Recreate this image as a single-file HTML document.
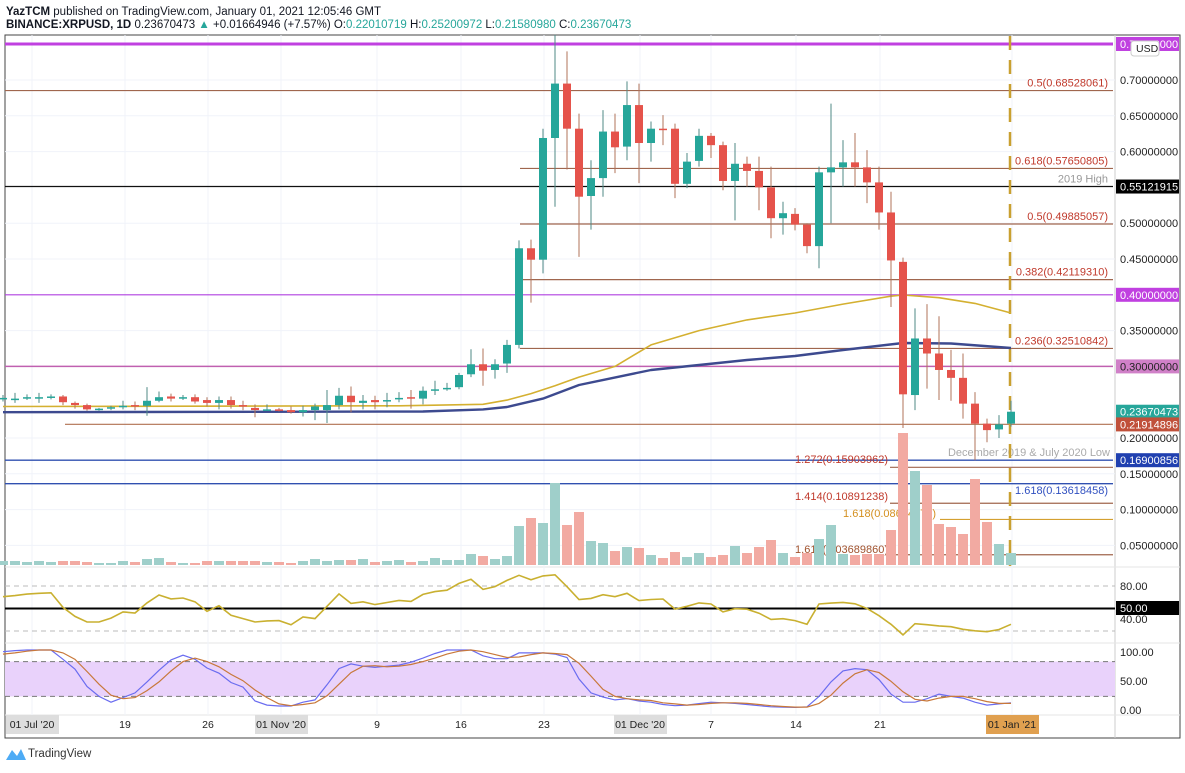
<!DOCTYPE html>
<html><head><meta charset="utf-8">
<style>
html,body{margin:0;padding:0;background:#fff;}
body{width:1185px;height:768px;overflow:hidden;font-family:"Liberation Sans",sans-serif;}
svg text{font-family:"Liberation Sans",sans-serif;}
</style></head>
<body>
<svg id="chart" width="1185" height="768" viewBox="0 0 1185 768" xmlns="http://www.w3.org/2000/svg">
  <g>
    <text x="6" y="15" font-size="11.5" fill="#131722"><tspan font-weight="bold">YazTCM</tspan> published on TradingView.com, January 01, 2021 12:05:46 GMT</text>
    <text x="6" y="28" font-size="11.5" fill="#131722"><tspan font-weight="bold">BINANCE:XRPUSD, 1D</tspan> 0.23670473 <tspan fill="#26a69a">▲</tspan> +0.01664946 (+7.57%) O:<tspan fill="#26a69a">0.22010719</tspan> H:<tspan fill="#26a69a">0.25200972</tspan> L:<tspan fill="#26a69a">0.21580980</tspan> C:<tspan fill="#26a69a">0.23670473</tspan></text>
  </g>
  <rect x="5" y="35" width="1175" height="703" fill="none" stroke="#444" stroke-width="1"/>
  <line x1="1115" y1="35" x2="1115" y2="738" stroke="#ccc"/>
  <line x1="5" y1="567" x2="1180" y2="567" stroke="#e6e6e6"/>
  <line x1="5" y1="643" x2="1180" y2="643" stroke="#e6e6e6"/>
  <line x1="5" y1="715" x2="1180" y2="715" stroke="#e6e6e6"/>
  <g id="grid"></g>
  <g id="levels"></g>
  <g id="volume"></g>
  <g id="mas"></g>
  <g id="candles"></g>
  <g id="rsi"></g>
  <g id="stoch"></g>
  <g id="axis"></g>
  <g id="xaxis"></g>
  <g>
    <path d="M6 760 L12 750 L17 756 L21 749 L26 760 Z" fill="#2196f3" opacity="0.8"/>
    <text x="28" y="757" font-size="11.5" fill="#333">TradingView</text>
  </g>
</svg>
<script>
const NS="http://www.w3.org/2000/svg";
const open=[.255,.255,.256,.257,.257,.258,.249,.246,.240,.241,.244,.246,.245,.252,.258,.257,.257,.253,.249,.253,.246,.242,.240,.240,.239,.236,.239,.239,.246,.259,.249,.253,.251,.256,.257,.255,.267,.270,.271,.289,.303,.295,
.304,.330,.465,.449,.619,.695,.632,.538,.563,.628,.607,.665,.612,.632,.632,.555,.587,.622,.609,.559,.583,.573,.550,.507,.513,.498,.468,.571,.578,.585,.578,.557,.515,.446,.260,.339,.318,.295,.284,.248,.220,.212,.2201];
const high=[.260,.263,.261,.263,.261,.260,.251,.248,.242,.245,.252,.251,.271,.265,.262,.260,.261,.257,.258,.258,.252,.247,.247,.242,.244,.245,.248,.267,.270,.272,.260,.259,.263,.264,.267,.272,.280,.277,.291,.324,.325,.310,
.337,.476,.477,.632,.763,.740,.653,.588,.658,.653,.698,.695,.642,.651,.639,.598,.632,.626,.614,.612,.593,.593,.579,.530,.521,.500,.579,.667,.616,.626,.602,.579,.544,.452,.381,.387,.370,.323,.318,.264,.227,.232,.2520];
const low=[.251,.249,.253,.249,.254,.246,.241,.238,.238,.239,.240,.239,.231,.250,.251,.253,.248,.244,.240,.241,.239,.229,.238,.237,.234,.230,.225,.221,.240,.236,.240,.240,.243,.250,.241,.247,.260,.266,.268,.285,.273,.283,
.291,.325,.389,.430,.523,.575,.453,.491,.537,.570,.588,.556,.586,.609,.535,.549,.579,.591,.546,.504,.551,.518,.479,.484,.490,.458,.437,.500,.551,.551,.528,.491,.383,.214,.239,.269,.253,.252,.227,.169,.194,.200,.2158];
const close=[.256,.255,.257,.257,.258,.250,.246,.240,.241,.243,.245,.244,.252,.257,.255,.257,.251,.249,.253,.246,.245,.239,.240,.239,.236,.239,.244,.246,.259,.250,.252,.250,.253,.256,.256,.266,.268,.270,.288,.303,.294,.303,
.330,.465,.449,.619,.695,.632,.537,.563,.628,.606,.665,.612,.632,.631,.555,.586,.622,.609,.559,.583,.573,.550,.507,.514,.498,.468,.571,.578,.585,.578,.557,.515,.448,.261,.339,.318,.295,.284,.248,.220,.211,.219,.2367];
const volume=[4,4,3,4,3,4,4,3,2,2,4,3,6,7,3,2,2,4,4,4,4,4,3,3,2,4,6,4,5,5,6,3,4,5,3,4,7,5,5,11,
9,6,9,39,47,42,82,40,53,24,22,14,18,17,10,7,13,8,12,8,10,19,12,18,25,12,8,12,26,40,11,10,11,11,35,132,94,80,41,38,31,86,43,21,12];
const rsi=[60.5,61.5,62.8,63.5,64,51,43,38,38,41.5,47,46,55,62,58.5,59.3,56,47.5,52.5,44,41,38,39,39.2,35.5,42.5,41,52,63,54.5,56,53.5,55.3,57.2,56.3,62.5,65,66.3,72.3,76,67,69.5,75,79.5,75.5,79,80,69.4,58,59,62.3,60.5,63.5,57,58,58.4,49.5,52,55,54,47,49.8,49.4,45.8,40.3,40.9,39.2,36,54,54.8,55.4,54.2,50,43.6,36,26.5,36.5,35.6,34.5,33.8,31.5,30.2,29.4,31.3,36];
const stochK=[97,99,100,100,100,84,67,37,20,10,18,26,45,65,83,91,84,69,60,44,36,12,5,3.5,3.4,10,14,40,68,76,72,70,72,74,79,86,94,100,100,100,90,85,85,95,95,95,93,87,50,26,19,14,16,12,10,6,4,5,7.5,10,9,8,6,4,2,1.5,1,2,20,45,64,68,66,49,24,10,10,16,24,20,17,10,5,7,9];
const stochD=[93,95,98,100,100,95,84,63,41,22,16,18,30,45,64,80,86,80,71,58,47,31,18,7,4,6,9,21,41,61,72,73,71,72,75,80,86,93,98,100,97,92,87,88,92,95,94,92,77,55,32,20,16,14,13,9,7,5,6,8,9,9,8,6,4,2.5,1.5,1.5,8,22,43,59,66,61,46,28,15,12,17,20,20,16,11,8,8];
const ma50Idx=[0,33,40,42,44,46,48,51,54,58,62,66,70,74,75,78,81,84];
const ma50Val=[.244,.245,.247,.253,.262,.273,.285,.300,.330,.350,.365,.3746,.387,.398,.3997,.396,.388,.3746];
const ma200Idx=[0,35,40,42,45,48,54,62,66,70,75,79,84];
const ma200Val=[.236,.237,.240,.2433,.255,.274,.295,.309,.3145,.3229,.3327,.332,.3257];
const priceTicks=[0.70,0.65,0.60,0.50,0.45,0.35,0.20,0.15,0.10,0.05];
const dateLabels=["01 Jul '20","19","26","01 Nov '20","9","16","23","01 Dec '20","7","14","21","01 Jan '21"];
const dateX=[32,125,208,281,377,461,544,640,711,796,880,1012];

const N=close.length;
const X0=5, PLOT_R=1113;
function xOf(i){return 1011-12*(N-1-i);}
function yP(p){return 80+(0.70-p)*716;}
function yRsi(v){return 586+(70-v)*1.125;}
function ySt(v){return 708-v*0.58;}

function mk(tag,attrs,parent){const e=document.createElementNS(NS,tag);for(const k in attrs)e.setAttribute(k,attrs[k]);parent.appendChild(e);return e;}
const G=id=>document.getElementById(id);

const grid=G('grid');
priceTicks.forEach(p=>{const l=mk('line',{x1:X0,x2:1115,y1:yP(p),y2:yP(p),stroke:'#f0f3fa'},grid);

});
dateX.forEach(x=>{const l=mk('line',{x1:x,x2:x,y1:35,y2:715,stroke:'#f0f3fa'},grid);

});

const lv=G('levels');
function hline(p,x1,color,w,name,label,lcolor,lx,anchor,ly){
  const l=mk('line',{x1:x1,x2:PLOT_R,y1:yP(p),y2:yP(p),stroke:color,'stroke-width':w},lv);
  
  
  if(label){const t=mk('text',{x:lx,y:ly!==undefined?ly:yP(p)-4,'font-size':11,fill:lcolor,'text-anchor':anchor||'end'},lv);t.textContent=label;
  
  }
}
hline(0.7503,X0,'#c040e0',3,'magenta-level-line');
hline(0.68528061,X0,'#a0664e',1.2,'fib-0-5-upper','0.5(0.68528061)','#c0392b',1108);
hline(0.57650805,520,'#a0664e',1.2,'fib-0-618','0.618(0.57650805)','#c0392b',1108);
hline(0.55121915,X0,'#111',1.3,'2019-high-line','2019 High','#999',1108);
hline(0.49885057,520,'#a0664e',1.2,'fib-0-5','0.5(0.49885057)','#c0392b',1108);
hline(0.42119310,520,'#a0664e',1.2,'fib-0-382','0.382(0.42119310)','#c0392b',1108);
hline(0.40,X0,'#b040e0',1.2,'level-0-40');
hline(0.32510842,520,'#a0664e',1.2,'fib-0-236','0.236(0.32510842)','#c0392b',1108);
hline(0.30,X0,'#c060b0',1.5,'level-0-30');
hline(0.21914896,65,'#b07050',1.2,'level-0-219');
hline(0.16900856,X0,'#3050b0',1.3,'dec-2019-low-line','December 2019 & July 2020 Low','#aaa',1110);
hline(0.15903962,890,'#a0664e',1.2,'ext-1-272','1.272(0.15903962)','#c0392b',888,'end',463);
hline(0.13618458,X0,'#3050b0',1.3,'ext-1-618-blue','1.618(0.13618458)','#3050c0',1108,'end',494);
hline(0.10891238,890,'#a0664e',1.2,'ext-1-414','1.414(0.10891238)','#c0392b',888,'end',500);
hline(0.08624770,940,'#d4a030',1.2,'ext-1-618-gold','1.618(0.08624770)','#d49020',936,'end',517);
hline(0.03689860,890,'#a0664e',1.2,'ext-1-618-lower','1.618(0.03689860)','#a0522d',888,'end',553);
const br=mk('line',{x1:975,x2:975,y1:433,y2:460,stroke:'#aaa'},lv);


const vd=mk('line',{x1:1010,x2:1010,y1:36,y2:566,stroke:'#c9a030','stroke-width':2.5,'stroke-dasharray':'14 10'},lv);



const vg=G('volume');
for(let i=0;i<N;i++){const up=close[i]>=open[i];
 const r=mk('rect',{x:xOf(i)-5,y:565-volume[i],width:10,height:volume[i],fill:up?'#9fcfca':'#f2aaa2'},vg);
 
 }

const mg=G('mas');
function maPath(idx,val,color,w,name){const d=idx.map((k,j)=>(j?'L':'M')+xOf(k).toFixed(1)+' '+yP(val[j]).toFixed(1)).join(' ');
 const p=mk('path',{d:d,fill:'none',stroke:color,'stroke-width':w,'stroke-linejoin':'round'},mg);
 
 }
maPath(ma50Idx,ma50Val,'#d4b030',1.6,'ma-fast-line');
maPath(ma200Idx,ma200Val,'#3d4a8f',2.4,'ma-slow-line');

const cg=G('candles');
for(let i=0;i<N;i++){const up=close[i]>=open[i];const col=up?'#26a69a':'#e5534b';const x=xOf(i);
 const w=mk('line',{x1:x,x2:x,y1:yP(high[i]),y2:yP(low[i]),stroke:up?'#4f8a86':'#b0735a','stroke-width':1},cg);
 
 
 const top=yP(Math.max(open[i],close[i])),bot=yP(Math.min(open[i],close[i]));
 const b=mk('rect',{x:x-4,y:top,width:8,height:Math.max(1.5,bot-top),fill:col},cg);
 
 }

const rg=G('rsi');
[70,30].forEach(v=>{const l=mk('line',{x1:X0,x2:1115,y1:yRsi(v),y2:yRsi(v),stroke:'#bbb','stroke-dasharray':'5 4'},rg);

});
const m50=mk('line',{x1:X0,x2:1115,y1:yRsi(50),y2:yRsi(50),stroke:'#000','stroke-width':2},rg);


const rp=mk('path',{d:rsi.map((v,i)=>(i?'L':'M')+xOf(i)+' '+yRsi(v).toFixed(1)).join(' '),fill:'none',stroke:'#c9b030','stroke-width':1.6},rg);



const sg=G('stoch');
const band=mk('rect',{x:X0,y:ySt(80),width:1110,height:ySt(20)-ySt(80),fill:'#e9d2fb'},sg);


[80,20].forEach(v=>{const l=mk('line',{x1:X0,x2:1115,y1:ySt(v),y2:ySt(v),stroke:'#777','stroke-dasharray':'5 4'},sg);

});
const kp=mk('path',{d:stochK.map((v,i)=>(i?'L':'M')+xOf(i)+' '+ySt(v).toFixed(1)).join(' '),fill:'none',stroke:'#6a6cf0','stroke-width':1.2},sg);


const dp=mk('path',{d:stochD.map((v,i)=>(i?'L':'M')+xOf(i)+' '+ySt(v).toFixed(1)).join(' '),fill:'none',stroke:'#c8783a','stroke-width':1.2},sg);



const ag=G('axis');
priceTicks.forEach(p=>{const t=mk('text',{x:1120,y:yP(p)+4,'font-size':11,fill:'#222'},ag);t.textContent=p.toFixed(8);

});
function tag(y,label,bg,fg,name){const r=mk('rect',{x:1116,y:y-7,width:63,height:14,fill:bg},ag);
 
 
 const t=mk('text',{x:1120,y:y+4,'font-size':11,fill:fg},ag);t.textContent=label;
 
 }
tag(yP(0.7503),'0.75028000','#c040e0','#fff','top-level-tag');
tag(yP(0.55121915),'0.55121915','#000','#fff','2019-high-tag');
tag(yP(0.40),'0.40000000','#c040e0','#fff','level-40-tag');
tag(yP(0.30),'0.30000000','#d080c8','#222','level-30-tag');
tag(yP(0.2367),'0.23670473','#26a69a','#fff','last-price-tag');
tag(yP(0.219),'0.21914896','#c0503a','#fff','level-219-tag');
tag(yP(0.16900856),'0.16900856','#2040b0','#fff','dec-low-tag');
const usd=mk('rect',{x:1131,y:41,width:28,height:15,rx:3,fill:'#fff',stroke:'#ccc'},ag);


const ut=mk('text',{x:1136,y:52,'font-size':10.5,fill:'#222'},ag);ut.textContent='USD';


[[80,586],[40,619],[100,652],[50,681],[0,710]].forEach(([v,y])=>{const t=mk('text',{x:1120,y:y+4,'font-size':11,fill:'#222'},ag);t.textContent=v.toFixed(2);

});
tag(608,'50.00','#000','#fff','rsi-50-tag');

const xg=G('xaxis');
dateLabels.forEach((s,j)=>{const x=dateX[j];const long=s.length>3;
 if(long){const bg=j===dateLabels.length-1?'#e0a050':'#ddd';
  const r=mk('rect',{x:x-26,y:715,width:53,height:19,fill:bg},xg);
  
  }
 const t=mk('text',{x:x,y:728,'font-size':10.5,fill:'#222','text-anchor':'middle'},xg);t.textContent=s;
 
 });
</script>
</body></html>
